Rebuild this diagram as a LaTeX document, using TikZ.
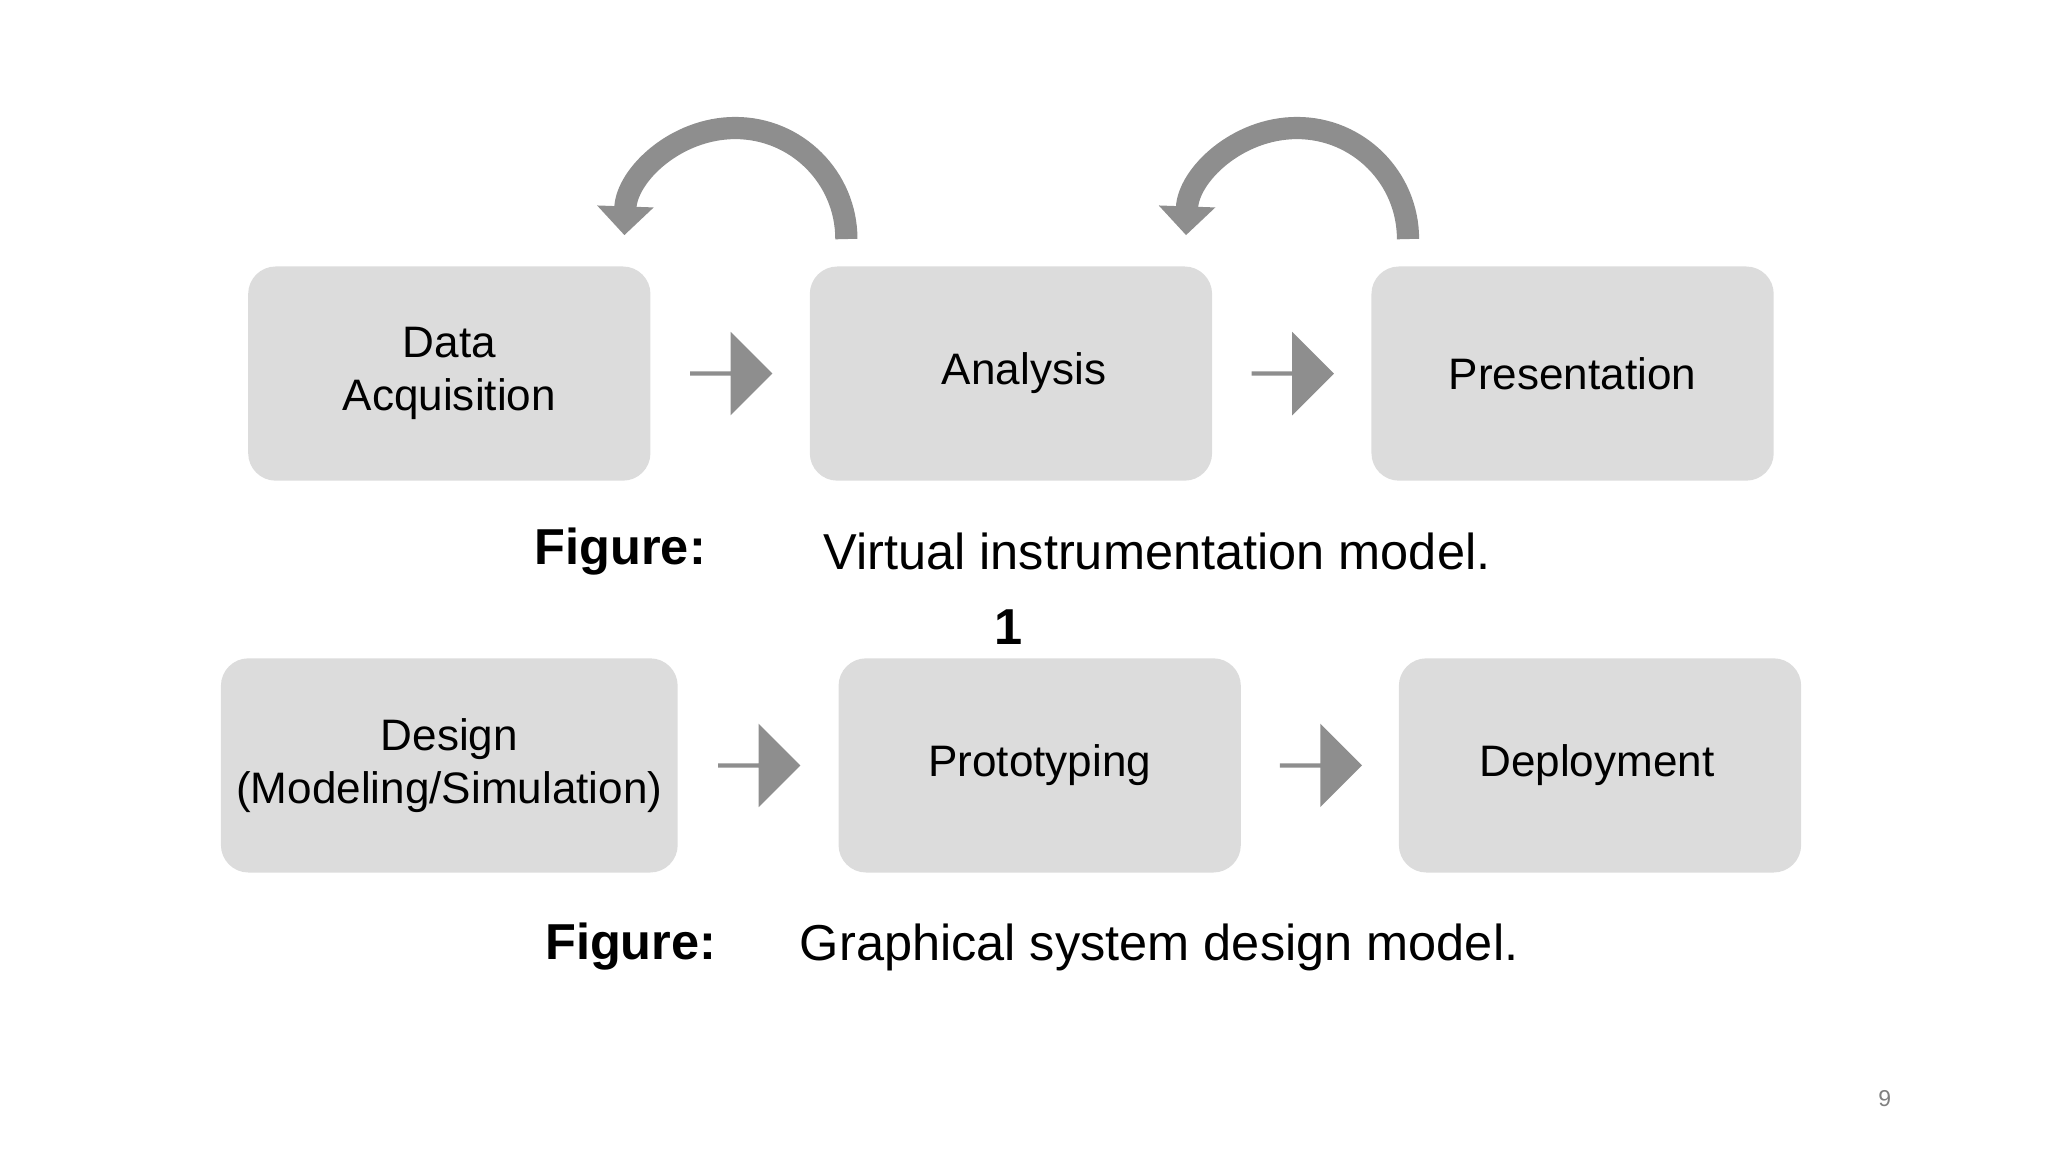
\documentclass[tikz,border=0pt]{standalone}
\usepackage{fontspec}
\setmainfont{Liberation Sans}
\usetikzlibrary{shapes.arrows, arrows.meta, positioning, calc}
\definecolor{boxgray}{HTML}{DCDCDC}
\definecolor{arrgray}{HTML}{8E8E8E}
\tikzstyle{stage} = [rectangle, rounded corners=6pt, minimum width=3.08cm, minimum height=1.64cm, text centered, fill=boxgray, font=\fontsize{9.6}{11.5}\selectfont, align=center]
\tikzstyle{flowarrow} = [single arrow, fill=arrgray, minimum width=0.64cm, minimum height=0.63cm, single arrow head extend=0.13cm, inner sep=0pt]
\tikzstyle{loop} = [line width=0.17cm, arrgray, -{Triangle[width=0.42cm,length=0.22cm]}]
\tikzstyle{caption} = [font=\fontsize{11}{13}\selectfont, anchor=west]

\begin{document}
\begin{tikzpicture}
    \useasboundingbox (0,0) rectangle (15.68,-8.82);
    % top row
    \node (acq) [stage] at (3.44,-2.86) {Data\\Acquisition};
    \node (ana) [stage] at (7.74,-2.86) {\hspace*{0.2cm}Analysis};
    \node (pres) [stage] at (12.04,-2.86) {Presentation};
    \node (s1) [flowarrow] at ($(acq.east)!0.5!(ana.west)$) {};
    \node (s2) [flowarrow] at ($(ana.east)!0.5!(pres.west)$) {};
    % feedback loops
    \draw [loop] (6.48,-1.83) arc (0:178:0.85);
    \draw [loop] (10.78,-1.83) arc (0:178:0.85);
    \node (fig1) [caption] at (3.97,-4.22) {\textbf{Figure:}};
    \node (cap1) [caption] at (6.18,-4.22) {Virtual instrumentation model.};
    \node (one) [font=\fontsize{11}{13}\selectfont\bfseries] at (7.72,-4.80) {1};
    % bottom row
    \node (des) [stage, minimum width=3.48cm] at (3.44,-5.86) {Design\\(Modeling/Simulation)};
    \node (pro) [stage] at (7.96,-5.86) {Prototyping};
    \node (dep) [stage] at (12.25,-5.86) {\hspace*{-0.05cm}Deployment};
    \node (s3) [flowarrow] at ($(des.east)!0.5!(pro.west)$) {};
    \node (s4) [flowarrow] at ($(pro.east)!0.5!(dep.west)$) {};
    \node (fig2) [caption] at (4.05,-7.25) {\textbf{Figure:}};
    \node (cap2) [caption] at (6.00,-7.25) {Graphical system design model.};
    \node (page) [font=\fontsize{5}{6}\selectfont, text=gray] at (14.43,-8.41) {9};
\end{tikzpicture}
\end{document}
